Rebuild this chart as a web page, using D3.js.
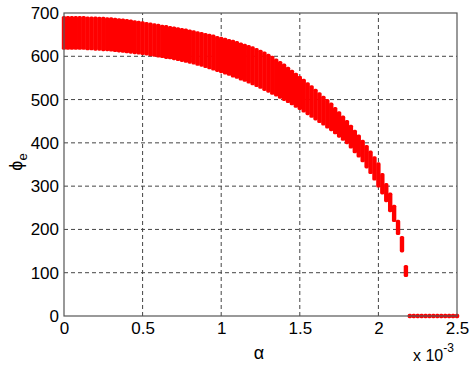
<!DOCTYPE html>
<html>
<head>
<meta charset="utf-8">
<script src="https://cdn.jsdelivr.net/npm/d3@7"></script>
<style>
  body { margin: 0; background: #fff; }
  text { font-family: "Liberation Sans", Arial, sans-serif; }
</style>
</head>
<body>
<svg width="474" height="366"></svg>
<script>
// alpha samples (x 10^-3)
var alpha = [0,0.025,0.05,0.075,0.1,0.125,0.15,0.175,0.2,0.225,0.25,0.275,0.3,0.325,0.35,0.375,0.4,0.425,0.45,0.475,
  0.5,0.525,0.55,0.575,0.6,0.625,0.65,0.675,0.7,0.725,0.75,0.775,0.8,0.825,0.85,0.875,0.9,0.925,0.95,0.975,
  1,1.025,1.05,1.075,1.1,1.125,1.15,1.175,1.2,1.225,1.25,1.275,1.3,1.325,1.35,1.375,1.4,1.425,1.45,1.475,
  1.5,1.525,1.55,1.575,1.6,1.625,1.65,1.675,1.7,1.725,1.75,1.775,1.8,1.825,1.85,1.875,1.9,1.925,1.95,1.975,
  2,2.025,2.05,2.075,2.1,2.125,2.15,2.175,2.2,2.225,2.25,2.275,2.3,2.325,2.35,2.375,2.4,2.425,2.45,2.475,2.5];

// upper end of phi_e at each alpha
var phiHigh = [688,688,688,688,688,688,687,687,687,686,686,685,685,684,683,682,681,680,678,677,
  676,674,673,671,670,668,667,665,664,662,660,659,657,655,653,651,649,647,645,642,
  640,638,635,633,630,627,624,621,618,614,610,606,601,596,590,584,578,571,564,557,
  550,543,535,528,520,512,504,496,488,478,468,458,448,437,425,414,402,390,377,364,
  350,325,302,280,252,217,180,113,0,0,0,0,0,0,0,0,0,0,0,0,0];

// lower end of phi_e at each alpha
var phiLow = [620,620,620,620,620,620,619,619,618,618,617,617,616,615,614,613,612,611,610,609,
  608,607,605,604,602,601,599,598,596,594,592,590,588,586,583,581,578,575,572,569,
  566,563,560,556,553,549,546,542,538,534,530,525,521,516,512,507,502,497,492,486,
  481,475,469,463,457,451,445,438,432,425,417,410,402,392,381,371,360,346,333,318,
  302,286,268,245,222,192,152,95,0,0,0,0,0,0,0,0,0,0,0,0,0];

var xTicks = [0, 0.5, 1, 1.5, 2, 2.5];
var yTicks = [0, 100, 200, 300, 400, 500, 600, 700];

var svg = d3.select("svg");
var margin = {top: 13, right: 17, bottom: 50, left: 64};
var width = +svg.attr("width");
var height = +svg.attr("height");

var x = d3.scaleLinear().domain([0, 2.5]).range([margin.left, width - margin.right]);
var y = d3.scaleLinear().domain([0, 700]).range([height - margin.bottom, margin.top]);

var data = alpha.map(function(a, i){ return {a: a, hi: phiHigh[i], lo: phiLow[i]}; });

// grid
var grid = svg.append("g")
    .attr("stroke", "#444")
    .attr("stroke-width", 1)
    .attr("stroke-dasharray", "4,3");
grid.selectAll("line.gx")
    .data(xTicks.slice(1, -1)).enter()
    .append("line")
    .attr("x1", d => x(d)).attr("x2", d => x(d))
    .attr("y1", y(0)).attr("y2", y(700));
grid.selectAll("line.gy")
    .data(yTicks.slice(1, -1)).enter()
    .append("line")
    .attr("x1", x(0)).attr("x2", x(2.5))
    .attr("y1", d => y(d)).attr("y2", d => y(d));

// markers: each alpha gets a column of dots from lo to hi
var r = 2.2;
svg.append("g")
    .attr("fill", "#ff0000")
    .selectAll("rect")
    .data(data).enter()
    .append("rect")
    .attr("x", d => x(d.a) - r)
    .attr("width", 2 * r)
    .attr("y", d => y(d.hi) - r)
    .attr("height", d => y(d.lo) - y(d.hi) + 2 * r)
    .attr("rx", 1.6);

// box
svg.append("rect")
    .attr("x", x(0)).attr("y", y(700))
    .attr("width", x(2.5) - x(0)).attr("height", y(0) - y(700))
    .attr("fill", "none")
    .attr("stroke", "#555")
    .attr("stroke-width", 1.2);

// axes
var xAxis = d3.axisBottom(x).tickValues(xTicks).tickSize(0).tickPadding(6)
    .tickFormat(d3.format("~g"));
var gx = svg.append("g").attr("transform", "translate(0," + y(0) + ")").call(xAxis);
gx.select(".domain").remove();
gx.selectAll("text").attr("font-size", 17).attr("fill", "#000")
    .style("font-family", "'Liberation Sans', Arial, sans-serif");

var yAxis = d3.axisLeft(y).tickValues(yTicks).tickSize(0).tickPadding(5);
var gy = svg.append("g").attr("transform", "translate(" + x(0) + ",0)").call(yAxis);
gy.select(".domain").remove();
gy.selectAll("text").attr("font-size", 17).attr("fill", "#000")
    .style("font-family", "'Liberation Sans', Arial, sans-serif");

// labels
svg.append("text")
    .attr("x", 259).attr("y", 359)
    .attr("text-anchor", "middle")
    .attr("font-size", 18)
    .text("α");

var mult = svg.append("text")
    .attr("x", 413).attr("y", 361)
    .attr("font-size", 16);
mult.append("tspan").text("x 10");
mult.append("tspan").attr("dy", -9).attr("font-size", 12).text("-3");

var ylab = svg.append("text")
    .attr("transform", "translate(22,162) rotate(-90)")
    .attr("text-anchor", "middle")
    .attr("font-size", 18);
ylab.append("tspan").text("ϕ");
ylab.append("tspan").attr("dy", 5).attr("font-size", 13).text("e");
</script>
</body>
</html>
